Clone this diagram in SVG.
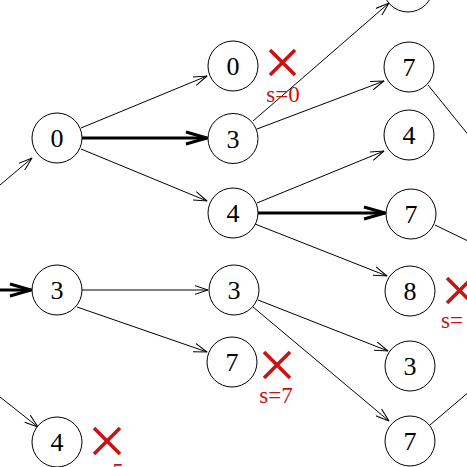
<svg xmlns="http://www.w3.org/2000/svg" width="467" height="467" viewBox="0 0 467 467">
<style>
.n circle{fill:#fff;stroke:#000;stroke-width:1}
.n text{font-family:"Liberation Serif","Times New Roman",serif;font-size:26px;text-anchor:middle;fill:#000}
.e line{stroke:#000;stroke-width:1;fill:none}
.e line.t{stroke-width:3}
.x line{stroke:#cc1111;stroke-width:3.5}
.s{font-family:"Liberation Serif","Times New Roman",serif;font-size:23px;fill:#cc1111;text-anchor:middle}
</style>
<defs>
<marker id="a" viewBox="0 0 14 10" refX="13.5" refY="5" markerWidth="14" markerHeight="10" markerUnits="userSpaceOnUse" orient="auto">
<path d="M0,0.5 L13.5,5 L0,9.5" fill="none" stroke="#000" stroke-width="1"/>
</marker>
<marker id="b" viewBox="0 0 24 16" refX="22" refY="8" markerWidth="24" markerHeight="16" markerUnits="userSpaceOnUse" orient="auto">
<path d="M1,2 L22,8 L1,14" fill="none" stroke="#000" stroke-width="3"/>
</marker>
</defs>
<g id="connectors" class="e">
<line x1="0" y1="185" x2="32" y2="158" marker-end="url(#a)"/>
<line x1="81" y1="128" x2="207" y2="76" marker-end="url(#a)"/>
<line class="t" x1="82" y1="138" x2="207" y2="138" marker-end="url(#b)"/>
<line x1="81" y1="149" x2="207" y2="201" marker-end="url(#a)"/>
<line x1="253" y1="121" x2="389" y2="3" marker-end="url(#a)"/>
<line x1="257" y1="129" x2="384" y2="81" marker-end="url(#a)"/>
<line x1="257" y1="203" x2="384" y2="151" marker-end="url(#a)"/>
<line class="t" x1="258" y1="213" x2="385" y2="213" marker-end="url(#b)"/>
<line x1="255" y1="224" x2="387" y2="276" marker-end="url(#a)"/>
<line x1="428" y1="85" x2="470" y2="137"/>
<line x1="435" y1="225" x2="470" y2="242"/>
<line x1="430" y1="425" x2="470" y2="391"/>
<line class="t" x1="0" y1="290" x2="31" y2="290" marker-end="url(#b)"/>
<line x1="82" y1="290" x2="208" y2="290" marker-end="url(#a)"/>
<line x1="77" y1="307" x2="207" y2="352" marker-end="url(#a)"/>
<line x1="258" y1="300" x2="388" y2="351" marker-end="url(#a)"/>
<line x1="253" y1="307" x2="389" y2="421" marker-end="url(#a)"/>
<line x1="0" y1="397" x2="38" y2="427" marker-end="url(#a)"/>
</g>
<g id="nA" class="n"><circle cx="57" cy="138" r="25"/><text x="57" y="147">0</text></g>
<g id="nB" class="n"><circle cx="233" cy="66" r="25"/><text x="233" y="75">0</text></g>
<g id="nC" class="n"><circle cx="233" cy="138.5" r="25"/><text x="233" y="147.5">3</text></g>
<g id="nD" class="n"><circle cx="233" cy="213" r="25"/><text x="233" y="222">4</text></g>
<g id="nE" class="n"><circle cx="408" cy="-13" r="25"/></g>
<g id="nF" class="n"><circle cx="409" cy="67" r="25"/><text x="409" y="76">7</text></g>
<g id="nG" class="n"><circle cx="409" cy="135" r="25"/><text x="409" y="144">4</text></g>
<g id="nH" class="n"><circle cx="411" cy="214" r="25"/><text x="411" y="223">7</text></g>
<g id="nI" class="n"><circle cx="410" cy="291" r="25"/><text x="410" y="300">8</text></g>
<g id="nJ" class="n"><circle cx="410" cy="366" r="25"/><text x="410" y="375">3</text></g>
<g id="nK" class="n"><circle cx="410" cy="441" r="25"/><text x="410" y="450">7</text></g>
<g id="nL" class="n"><circle cx="57" cy="290" r="25"/><text x="57" y="299">3</text></g>
<g id="nM" class="n"><circle cx="234" cy="290" r="25"/><text x="234" y="299">3</text></g>
<g id="nN" class="n"><circle cx="232" cy="362" r="25"/><text x="232" y="371">7</text></g>
<g id="nO" class="n"><circle cx="57" cy="442" r="25"/><text x="57" y="451">4</text></g>
<g id="cut1" class="x"><line x1="270" y1="50" x2="295" y2="75"/><line x1="295" y1="50" x2="270" y2="75"/></g>
<text class="s" x="283" y="102">s=0</text>
<g id="cut2" class="x"><line x1="264" y1="352" x2="290" y2="378"/><line x1="290" y1="352" x2="264" y2="378"/></g>
<text class="s" x="276" y="403">s=7</text>
<g id="cut3" class="x"><line x1="447" y1="278" x2="472" y2="303"/><line x1="472" y1="278" x2="447" y2="303"/></g>
<text class="s" x="441" y="328" style="text-anchor:start">s=</text>
<g id="cut4" class="x"><line x1="94" y1="428" x2="120" y2="454"/><line x1="120" y1="428" x2="94" y2="454"/></g>
<text class="s" x="107" y="479">s=5</text>
</svg>
